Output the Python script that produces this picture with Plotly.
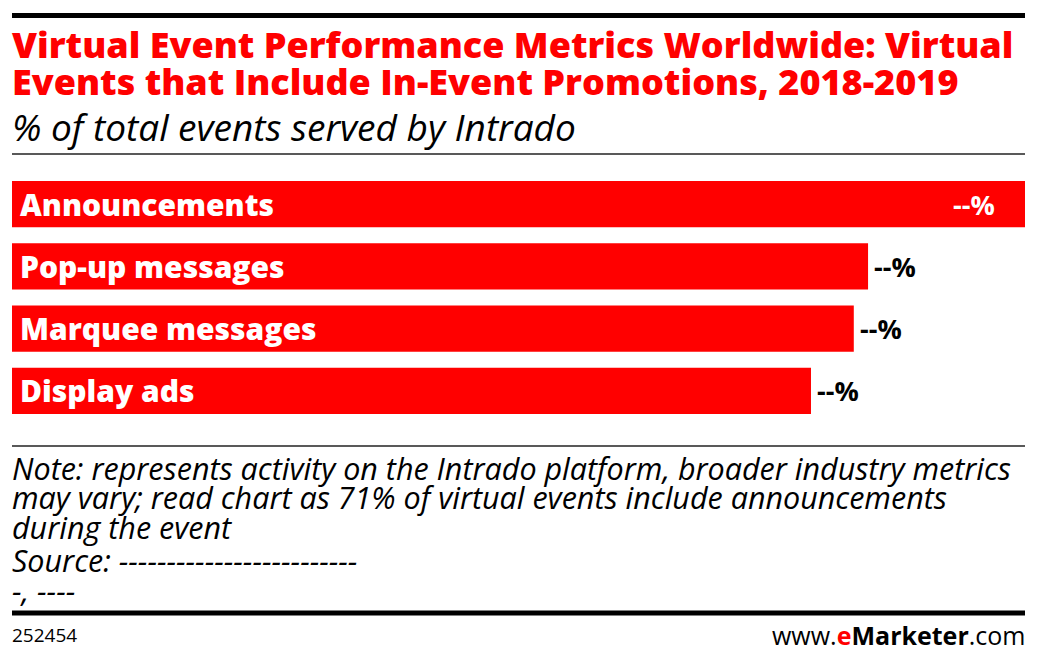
import plotly.graph_objects as go

categories = ["Announcements", "Pop-up messages", "Marquee messages", "Display ads"]
values = [71, 60, 59, 56]
value_labels = ["--%", "--%", "--%", "--%"]

title_lines = ["Virtual Event Performance Metrics Worldwide: Virtual",
               "Events that Include In-Event Promotions, 2018-2019"]
subtitle = "% of total events served by Intrado"
note_lines = ["Note: represents activity on the Intrado platform, broader industry metrics",
              "may vary; read chart as 71% of virtual events include announcements",
              "during the event",
              "Source: -------------------------",
              "-, ----"]
chart_id = "252454"

W, H = 1038, 663
L, R, T, B = 12, 13, 173, 241
PW, PH = W - L - R, H - T - B

def xp(x):
    return (x - L) / PW

def yp(y):
    return (H - B - y) / PH

RED = "#ff0000"
fig = go.Figure()
fig.add_trace(go.Bar(
    x=values, y=categories, orientation="h",
    marker=dict(color=RED, line=dict(width=0)),
    hoverinfo="skip",
))

ann = []
for i, t in enumerate(title_lines):
    ann.append(dict(text=t, x=xp(10), y=yp(44 + i * 38), xref="paper", yref="paper",
                    xanchor="left", yanchor="middle", showarrow=False,
                    font=dict(family="Open Sans", size=36, color=RED, weight=800)))
ann.append(dict(text=subtitle, x=xp(10), y=yp(127), xref="paper", yref="paper",
                xanchor="left", yanchor="middle", showarrow=False,
                font=dict(family="Open Sans", size=37, color="#000", style="italic")))
for c in categories:
    ann.append(dict(text=c, x=0, y=c, xref="x", yref="y", xanchor="left", yanchor="middle",
                    xshift=6, showarrow=False,
                    font=dict(family="Open Sans", size=30, color="white", weight=800)))
for i, (c, v, lab) in enumerate(zip(categories, values, value_labels)):
    if i == 0:
        ann.append(dict(text=lab, x=v, y=c, xref="x", yref="y", xanchor="right", yanchor="middle",
                        xshift=-28, showarrow=False,
                        font=dict(family="Open Sans", size=27, color="white", weight=700)))
    else:
        ann.append(dict(text=lab, x=v, y=c, xref="x", yref="y", xanchor="left", yanchor="middle",
                        xshift=4, showarrow=False,
                        font=dict(family="Open Sans", size=27, color="#000", weight=700)))
note_y = [468, 497, 527, 560, 590]
for t, yy in zip(note_lines, note_y):
    ann.append(dict(text=t, x=xp(10), y=yp(yy), xref="paper", yref="paper",
                    xanchor="left", yanchor="middle", showarrow=False,
                    font=dict(family="Open Sans", size=30.5, color="#000", style="italic")))
ann.append(dict(text=chart_id, x=xp(10), y=yp(635), xref="paper", yref="paper",
                xanchor="left", yanchor="middle", showarrow=False,
                font=dict(family="Open Sans", size=19, color="#000")))
ann.append(dict(text="www.<b><span style='color:#ff0000'>e</span>Marketer</b>.com",
                x=xp(1027), y=yp(635), xref="paper", yref="paper",
                xanchor="right", yanchor="middle", showarrow=False,
                font=dict(family="Open Sans", size=25, color="#000")))

shapes = [
    dict(type="line", xref="paper", yref="paper", x0=xp(12), x1=xp(1025), y0=yp(15.5), y1=yp(15.5),
         line=dict(color="#000", width=5)),
    dict(type="line", xref="paper", yref="paper", x0=xp(12), x1=xp(1025), y0=yp(154), y1=yp(154),
         line=dict(color="#222", width=1.5)),
    dict(type="line", xref="paper", yref="paper", x0=xp(12), x1=xp(1025), y0=yp(446), y1=yp(446),
         line=dict(color="#222", width=1.5)),
    dict(type="line", xref="paper", yref="paper", x0=xp(12), x1=xp(1025), y0=yp(613), y1=yp(613),
         line=dict(color="#000", width=5)),
]

fig.update_layout(
    width=W, height=H, margin=dict(l=L, r=R, t=T, b=B, pad=0),
    paper_bgcolor="white", plot_bgcolor="white",
    showlegend=False, bargap=0.26,
    xaxis=dict(range=[0, max(values)], visible=False, fixedrange=True),
    yaxis=dict(autorange="reversed", visible=False, fixedrange=True),
    annotations=ann, shapes=shapes,
)
fig.write_html("out.html", config={"displayModeBar": False},
               post_script="document.body.style.margin='0';document.body.style.overflow='hidden';")
